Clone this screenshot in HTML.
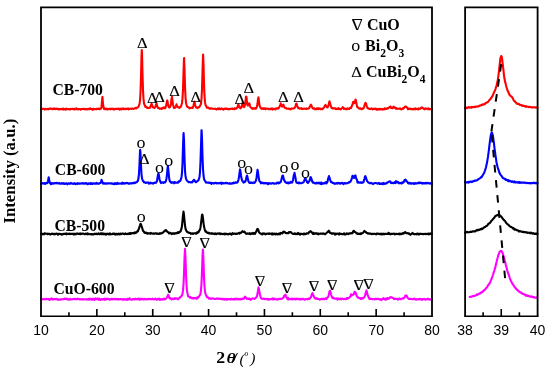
<!DOCTYPE html>
<html><head><meta charset="utf-8"><style>
html,body{margin:0;padding:0;background:#fff;}
body{width:550px;height:371px;overflow:hidden;}
svg{display:block;}
.lab{font-family:"Liberation Serif",serif;font-weight:bold;font-size:15.7px;fill:#000;}
.m{font-family:"Liberation Serif",serif;fill:#000;stroke:#000;stroke-width:0.15px;}
.mo{font-family:"Liberation Serif",serif;fill:#000;}
.tl{font-family:"Liberation Sans",Arial,sans-serif;font-size:14px;fill:#000;text-anchor:middle;}
.lg{font-family:"Liberation Serif",serif;font-weight:bold;font-size:16px;fill:#000;}
.sb{font-size:11.5px;}
.c{fill:none;stroke-width:2.1;stroke-linejoin:round;stroke-linecap:round;}
</style></head><body>
<svg width="550" height="371" viewBox="0 0 550 371">
<rect width="550" height="371" fill="#fff"/>
<polyline class="c" stroke="#f00" points="41.0,109.09 41.5,109.19 42.0,109.00 42.5,108.80 43.0,108.94 43.5,108.76 44.0,109.11 44.5,109.53 45.0,108.93 45.5,108.89 46.0,109.25 46.5,109.21 47.0,109.13 47.5,108.78 48.0,109.08 48.5,109.32 49.0,108.65 49.5,108.94 50.0,108.46 50.5,108.66 51.0,108.48 51.5,109.01 52.0,108.67 52.5,109.18 53.0,109.14 53.5,109.03 54.0,108.26 54.5,108.91 55.0,109.07 55.5,109.13 56.0,108.58 56.5,108.93 57.0,108.77 57.5,108.82 58.0,109.44 58.5,108.82 59.0,109.08 59.5,109.38 60.0,108.90 60.5,109.05 61.0,109.12 61.5,109.11 62.0,108.68 62.5,109.11 63.0,109.54 63.5,108.58 64.0,109.37 64.5,109.13 65.0,108.88 65.5,109.75 66.0,109.34 66.5,108.69 67.0,109.11 67.5,109.28 68.0,109.02 68.5,109.31 69.0,109.06 69.5,109.31 70.0,109.56 70.5,108.86 71.0,109.15 71.5,108.93 72.0,109.13 72.5,108.69 73.0,108.89 73.5,109.02 74.0,109.38 74.5,109.46 75.0,108.65 75.5,108.82 76.0,109.30 76.5,108.43 77.0,108.93 77.5,109.05 78.0,109.50 78.5,109.31 79.0,108.97 79.5,108.96 80.0,109.00 80.5,109.58 81.0,108.94 81.5,108.98 82.0,109.20 82.5,109.04 83.0,109.01 83.5,108.71 84.0,109.07 84.5,108.93 85.0,109.46 85.5,109.29 86.0,109.07 86.5,109.30 87.0,108.96 87.5,109.42 88.0,109.07 88.5,109.27 89.0,108.65 89.5,109.19 90.0,108.51 90.5,108.40 91.0,108.97 91.5,108.77 92.0,109.12 92.5,109.81 93.0,108.79 93.5,108.86 94.0,109.13 94.5,109.22 95.0,109.00 95.5,108.98 96.0,109.28 96.5,109.21 97.0,108.70 97.5,109.00 98.0,109.03 98.5,108.65 99.0,109.07 99.5,108.67 100.0,109.22 100.5,108.86 101.0,108.54 101.5,106.65 102.0,101.09 102.4,96.76 102.5,97.34 103.0,104.01 103.5,107.15 104.0,108.95 104.5,108.26 105.0,109.16 105.5,108.68 106.0,109.24 106.5,109.04 107.0,108.50 107.5,109.43 108.0,109.50 108.5,109.01 109.0,108.94 109.5,108.98 110.0,108.71 110.5,109.40 111.0,108.86 111.5,109.02 112.0,108.77 112.5,108.83 113.0,108.61 113.5,109.45 114.0,108.98 114.5,109.35 115.0,109.03 115.5,108.80 116.0,108.92 116.5,108.84 117.0,109.03 117.5,108.90 118.0,108.92 118.5,108.56 119.0,108.75 119.5,109.56 120.0,108.79 120.5,108.66 121.0,109.11 121.5,109.46 122.0,108.51 122.5,108.92 123.0,108.77 123.5,108.40 124.0,109.21 124.5,108.96 125.0,108.98 125.5,108.70 126.0,109.09 126.5,108.75 127.0,108.88 127.5,108.55 128.0,108.50 128.5,109.33 129.0,108.70 129.5,108.95 130.0,108.82 130.5,108.67 131.0,108.62 131.5,108.97 132.0,108.63 132.5,108.64 133.0,108.66 133.5,108.99 134.0,108.76 134.5,108.59 135.0,108.19 135.5,107.80 136.0,108.43 136.5,108.26 137.0,107.65 137.5,107.55 138.0,107.19 138.5,106.55 139.0,105.59 139.5,103.46 140.0,100.77 140.5,92.39 141.0,77.73 141.5,56.09 141.8,50.06 142.0,53.28 142.5,73.77 143.0,90.07 143.5,98.63 144.0,103.35 144.5,104.63 145.0,106.05 145.5,107.02 146.0,106.66 146.5,106.83 147.0,107.84 147.5,107.93 148.0,107.94 148.5,108.09 149.0,107.79 149.5,107.49 150.0,107.66 150.5,106.67 151.0,104.94 151.5,104.07 151.6,103.82 152.0,104.88 152.5,106.19 153.0,107.32 153.5,107.61 154.0,107.75 154.5,108.00 155.0,107.24 155.5,106.51 156.0,104.57 156.4,104.16 156.5,103.11 157.0,105.64 157.5,107.03 158.0,107.91 158.5,107.80 159.0,108.29 159.5,108.79 160.0,108.57 160.5,108.65 161.0,108.55 161.5,109.02 162.0,108.63 162.5,107.88 163.0,108.34 163.5,107.86 164.0,107.35 164.5,108.10 165.0,108.47 165.5,107.55 166.0,106.00 166.5,103.66 167.0,101.22 167.2,100.43 167.5,101.31 168.0,104.37 168.5,106.38 169.0,107.42 169.5,107.47 170.0,107.06 170.5,105.63 171.0,103.64 171.5,98.90 171.9,97.29 172.0,96.68 172.5,100.97 173.0,104.75 173.5,106.15 174.0,107.89 174.5,108.06 175.0,107.41 175.5,107.42 176.0,106.36 176.5,104.36 176.6,105.26 177.0,105.71 177.5,106.86 178.0,107.07 178.5,107.52 179.0,107.52 179.5,107.81 180.0,107.26 180.5,106.72 181.0,106.57 181.5,104.81 182.0,102.89 182.5,98.14 183.0,89.80 183.5,72.66 184.0,58.30 184.1,58.05 184.5,68.50 185.0,86.56 185.5,97.30 186.0,102.36 186.5,104.73 187.0,106.42 187.5,106.84 188.0,107.12 188.5,107.27 189.0,107.48 189.5,108.38 190.0,108.12 190.5,108.04 191.0,107.92 191.5,107.64 192.0,107.88 192.5,107.95 193.0,106.93 193.5,105.59 194.0,103.21 194.4,102.10 194.5,101.63 195.0,104.18 195.5,105.99 196.0,107.53 196.5,107.35 197.0,107.90 197.5,108.20 198.0,107.50 198.5,107.22 199.0,107.19 199.5,106.69 200.0,105.70 200.5,105.10 201.0,103.66 201.5,98.75 202.0,89.47 202.5,71.97 203.0,55.69 203.1,54.49 203.5,63.81 204.0,84.06 204.5,95.69 205.0,102.15 205.5,104.91 206.0,105.86 206.5,106.79 207.0,107.80 207.5,107.48 208.0,107.62 208.5,107.58 209.0,108.20 209.5,108.80 210.0,108.72 210.5,108.18 211.0,108.27 211.5,108.44 212.0,108.75 212.5,108.63 213.0,108.80 213.5,108.85 214.0,108.68 214.5,108.79 215.0,108.89 215.5,108.81 216.0,109.02 216.5,109.49 217.0,109.08 217.5,108.91 218.0,108.34 218.5,109.04 219.0,108.27 219.5,108.46 220.0,109.21 220.5,109.17 221.0,108.89 221.5,108.38 222.0,108.83 222.5,108.73 223.0,109.17 223.5,109.70 224.0,109.03 224.5,108.70 225.0,108.58 225.5,108.95 226.0,108.91 226.5,108.58 227.0,109.00 227.5,108.58 228.0,109.33 228.5,109.31 229.0,109.31 229.5,108.80 230.0,109.12 230.5,108.90 231.0,108.81 231.5,108.82 232.0,108.49 232.5,108.43 233.0,109.15 233.5,108.81 234.0,108.92 234.5,109.14 235.0,108.19 235.5,108.43 236.0,108.63 236.5,108.48 237.0,107.73 237.5,107.11 238.0,105.21 238.3,104.24 238.5,104.54 239.0,106.61 239.5,107.61 240.0,107.28 240.5,108.39 241.0,107.86 241.5,107.28 242.0,104.99 242.5,103.19 242.6,102.82 243.0,104.92 243.5,105.80 244.0,107.18 244.5,106.22 245.0,105.01 245.5,100.93 246.0,96.76 246.2,96.53 246.5,97.19 247.0,102.60 247.5,105.22 248.0,105.51 248.5,104.85 249.0,103.30 249.2,103.24 249.5,103.77 250.0,105.73 250.5,107.27 251.0,107.66 251.5,107.86 252.0,108.41 252.5,108.80 253.0,108.05 253.5,108.57 254.0,108.34 254.5,108.19 255.0,108.71 255.5,108.12 256.0,108.54 256.5,107.30 257.0,106.56 257.5,103.78 258.0,99.20 258.4,97.42 258.5,97.35 259.0,101.56 259.5,105.13 260.0,106.69 260.5,107.82 261.0,108.26 261.5,108.77 262.0,108.30 262.5,108.68 263.0,108.19 263.5,109.02 264.0,108.48 264.5,108.27 265.0,108.87 265.5,109.27 266.0,108.42 266.5,108.57 267.0,108.70 267.5,108.58 268.0,109.08 268.5,108.69 269.0,108.72 269.5,109.16 270.0,108.72 270.5,109.11 271.0,108.64 271.5,108.56 272.0,108.35 272.5,109.57 273.0,108.84 273.5,109.02 274.0,108.92 274.5,108.97 275.0,108.91 275.5,109.50 276.0,108.50 276.5,108.29 277.0,108.41 277.5,108.23 278.0,108.79 278.5,108.59 279.0,107.58 279.5,106.64 280.0,105.68 280.5,104.92 280.7,103.33 281.0,104.70 281.5,105.28 282.0,106.67 282.5,105.80 283.0,105.29 283.4,104.58 283.5,104.81 284.0,106.56 284.5,107.50 285.0,107.83 285.5,108.07 286.0,107.93 286.5,108.54 287.0,108.73 287.5,108.76 288.0,108.79 288.5,108.47 289.0,108.84 289.5,108.85 290.0,109.29 290.5,109.48 291.0,108.80 291.5,108.57 292.0,108.77 292.5,108.55 293.0,108.43 293.5,108.54 294.0,108.01 294.5,108.15 295.0,107.11 295.5,105.86 296.0,104.12 296.3,103.53 296.5,103.65 297.0,105.37 297.5,106.75 298.0,107.91 298.5,108.30 299.0,108.09 299.5,108.69 300.0,108.31 300.5,108.60 301.0,108.75 301.5,108.19 302.0,108.92 302.5,108.95 303.0,108.86 303.5,108.78 304.0,108.79 304.5,108.59 305.0,108.82 305.5,108.71 306.0,108.91 306.5,108.45 307.0,108.89 307.5,108.80 308.0,108.62 308.5,108.36 309.0,108.39 309.5,107.06 310.0,106.70 310.5,105.23 310.9,104.67 311.0,104.74 311.5,105.49 312.0,106.94 312.5,108.10 313.0,108.49 313.5,108.64 314.0,108.20 314.5,108.95 315.0,109.21 315.5,109.19 316.0,108.95 316.5,108.38 317.0,109.21 317.5,108.86 318.0,108.07 318.5,109.03 319.0,108.40 319.5,108.46 320.0,108.66 320.5,109.26 321.0,108.69 321.5,108.86 322.0,109.29 322.5,109.14 323.0,108.43 323.5,108.11 324.0,107.23 324.5,106.46 325.0,105.57 325.4,105.01 325.5,104.94 326.0,106.08 326.5,106.51 327.0,107.26 327.5,107.48 328.0,106.75 328.5,105.40 329.0,102.93 329.5,101.33 330.0,103.00 330.5,104.88 331.0,106.30 331.5,107.92 332.0,108.16 332.5,108.52 333.0,108.01 333.5,108.54 334.0,108.53 334.5,108.50 335.0,108.07 335.5,108.73 336.0,109.16 336.5,109.00 337.0,108.69 337.5,108.89 338.0,109.14 338.5,107.98 339.0,108.84 339.5,109.04 340.0,109.05 340.5,109.33 341.0,109.02 341.5,108.51 342.0,108.10 342.5,107.78 342.8,107.22 343.0,107.44 343.5,108.19 344.0,108.96 344.5,108.52 345.0,108.69 345.5,108.82 346.0,109.22 346.5,108.78 347.0,109.26 347.5,108.44 348.0,108.67 348.5,108.62 349.0,108.88 349.5,108.87 350.0,107.90 350.5,107.90 351.0,107.98 351.5,107.01 352.0,105.53 352.5,104.44 353.0,102.22 353.2,101.85 353.5,101.72 354.0,103.28 354.5,102.86 355.0,101.71 355.5,99.45 355.6,99.45 356.0,101.10 356.5,103.61 357.0,106.20 357.5,107.27 358.0,107.50 358.5,108.15 359.0,108.20 359.5,108.73 360.0,108.29 360.5,108.40 361.0,108.96 361.5,109.28 362.0,109.16 362.5,108.43 363.0,108.30 363.5,108.38 364.0,107.10 364.5,105.46 365.0,103.86 365.5,102.78 366.0,103.57 366.5,105.27 367.0,106.73 367.5,108.17 368.0,108.08 368.5,108.49 369.0,108.73 369.5,108.94 370.0,108.69 370.5,109.01 371.0,108.58 371.5,108.78 372.0,108.58 372.5,109.31 373.0,108.94 373.5,108.72 374.0,108.85 374.5,108.90 375.0,109.21 375.5,108.46 376.0,108.65 376.5,108.87 377.0,109.83 377.5,109.32 378.0,108.96 378.5,109.24 379.0,109.68 379.5,108.92 380.0,108.88 380.5,109.40 381.0,109.16 381.5,109.21 382.0,108.82 382.5,109.61 383.0,109.54 383.5,109.15 384.0,109.17 384.5,108.26 385.0,109.12 385.5,108.82 386.0,108.99 386.5,109.02 387.0,108.60 387.5,108.02 388.0,108.50 388.5,107.84 389.0,107.61 389.5,107.13 390.0,107.01 390.5,106.47 391.0,107.89 391.5,107.77 392.0,108.10 392.5,108.27 393.0,107.42 393.5,106.70 393.6,107.00 394.0,107.03 394.5,107.59 395.0,108.12 395.5,107.71 396.0,108.68 396.5,108.19 397.0,108.86 397.5,108.77 398.0,108.74 398.5,108.83 399.0,108.69 399.5,108.66 400.0,108.30 400.5,108.83 401.0,109.43 401.5,109.43 402.0,109.15 402.5,108.84 403.0,108.21 403.5,108.64 404.0,107.75 404.5,107.23 405.0,106.64 405.5,106.53 406.0,106.60 406.5,107.23 407.0,107.42 407.5,108.06 408.0,109.21 408.5,108.61 409.0,108.67 409.5,108.99 410.0,109.10 410.5,108.53 411.0,108.86 411.5,109.25 412.0,109.05 412.5,109.01 413.0,109.50 413.5,108.77 414.0,109.02 414.5,108.83 415.0,109.49 415.5,108.35 416.0,108.78 416.5,108.82 417.0,109.20 417.5,109.17 418.0,109.42 418.5,108.41 419.0,109.13 419.5,108.72 420.0,108.48 420.5,108.72 421.0,108.03 421.5,107.43 422.0,107.90 422.5,107.62 423.0,108.12 423.5,108.67 424.0,108.82 424.5,109.35 425.0,108.84 425.5,108.44 426.0,108.73 426.5,108.70 427.0,108.61 427.5,109.17 428.0,108.82 428.5,108.39 429.0,109.28 429.5,109.01 430.0,109.17 430.5,109.09 431.0,109.27 431.5,109.08 432.0,109.47"/>
<polyline class="c" stroke="#00f" points="41.0,183.62 41.5,183.61 42.0,183.62 42.5,183.00 43.0,183.42 43.5,183.39 44.0,183.54 44.5,183.01 45.0,183.99 45.5,183.47 46.0,183.02 46.5,182.82 47.0,183.22 47.5,182.99 48.0,181.18 48.5,178.06 48.7,177.23 49.0,178.83 49.5,181.69 50.0,183.12 50.5,183.66 51.0,184.24 51.5,183.09 52.0,183.29 52.5,183.18 53.0,183.72 53.5,183.09 54.0,183.31 54.5,183.47 55.0,183.15 55.5,183.16 56.0,183.32 56.5,182.79 57.0,183.01 57.5,183.35 58.0,183.53 58.5,183.42 59.0,182.90 59.5,183.33 60.0,183.75 60.5,183.67 61.0,183.46 61.5,183.19 62.0,183.69 62.5,183.30 63.0,183.10 63.5,183.22 64.0,183.96 64.5,183.56 65.0,183.87 65.5,183.33 66.0,183.80 66.5,183.29 67.0,183.44 67.5,184.31 68.0,183.74 68.5,183.32 69.0,183.46 69.5,183.59 70.0,183.89 70.5,183.33 71.0,182.91 71.5,183.39 72.0,183.49 72.5,183.52 73.0,183.92 73.5,183.59 74.0,183.75 74.5,183.12 75.0,183.77 75.5,184.18 76.0,183.74 76.5,183.57 77.0,183.54 77.5,184.07 78.0,183.18 78.5,183.45 79.0,183.64 79.5,183.73 80.0,183.34 80.5,183.59 81.0,183.39 81.5,183.52 82.0,183.44 82.5,183.11 83.0,183.48 83.5,183.77 84.0,183.16 84.5,183.40 85.0,183.70 85.5,183.13 86.0,183.54 86.5,183.13 87.0,183.86 87.5,184.24 88.0,184.15 88.5,183.41 89.0,183.72 89.5,183.52 90.0,183.51 90.5,183.99 91.0,183.04 91.5,183.82 92.0,183.46 92.5,183.94 93.0,183.54 93.5,183.25 94.0,183.56 94.5,183.71 95.0,183.48 95.5,183.63 96.0,183.29 96.5,182.76 97.0,183.76 97.5,183.69 98.0,183.50 98.5,183.46 99.0,183.77 99.5,183.25 100.0,183.10 100.5,182.95 101.0,182.19 101.5,179.74 101.6,180.52 102.0,180.84 102.5,182.31 103.0,183.68 103.5,183.35 104.0,182.98 104.5,183.31 105.0,183.75 105.5,183.84 106.0,183.31 106.5,183.59 107.0,183.69 107.5,183.24 108.0,183.57 108.5,183.45 109.0,183.28 109.5,183.29 110.0,183.48 110.5,183.47 111.0,183.27 111.5,183.31 112.0,183.82 112.5,183.52 113.0,183.74 113.5,183.85 114.0,183.65 114.5,184.20 115.0,183.18 115.5,183.71 116.0,183.34 116.5,184.06 117.0,184.00 117.5,182.80 118.0,183.12 118.5,183.66 119.0,183.70 119.5,183.68 120.0,183.41 120.5,183.58 121.0,183.64 121.5,183.40 122.0,183.76 122.5,182.67 123.0,183.62 123.5,183.07 124.0,183.72 124.5,183.32 125.0,183.10 125.5,183.51 126.0,183.08 126.5,183.07 127.0,182.85 127.5,183.35 128.0,183.51 128.5,183.67 129.0,183.27 129.5,183.65 130.0,183.30 130.5,183.24 131.0,183.44 131.5,183.57 132.0,183.08 132.5,183.08 133.0,183.06 133.5,183.09 134.0,182.70 134.5,183.25 135.0,182.67 135.5,182.81 136.0,182.19 136.5,182.31 137.0,181.92 137.5,181.04 138.0,180.77 138.5,178.03 139.0,173.55 139.5,163.58 140.0,151.40 140.2,149.86 140.5,153.60 141.0,165.63 141.5,174.28 142.0,178.39 142.5,179.76 143.0,181.23 143.5,181.13 144.0,182.35 144.5,182.23 145.0,182.41 145.5,182.70 146.0,182.96 146.5,182.48 147.0,182.43 147.5,182.70 148.0,182.41 148.5,182.79 149.0,183.65 149.5,182.79 150.0,183.37 150.5,182.70 151.0,183.25 151.5,183.04 152.0,183.12 152.5,183.30 153.0,183.67 153.5,183.12 154.0,183.04 154.5,182.60 155.0,183.00 155.5,182.56 156.0,182.63 156.5,181.79 157.0,181.21 157.5,177.65 158.0,174.77 158.4,173.60 158.5,173.30 159.0,175.99 159.5,179.27 160.0,180.68 160.5,182.01 161.0,183.16 161.5,182.92 162.0,182.28 162.5,182.39 163.0,182.54 163.5,182.96 164.0,182.26 164.5,182.14 165.0,182.40 165.5,181.93 166.0,180.62 166.5,178.42 167.0,174.36 167.5,168.87 167.9,165.76 168.0,166.93 168.5,171.26 169.0,176.87 169.5,180.36 170.0,181.57 170.5,181.48 171.0,182.51 171.5,182.83 172.0,182.35 172.5,182.37 173.0,182.71 173.5,182.26 174.0,183.29 174.5,182.01 175.0,182.43 175.5,182.67 176.0,182.65 176.5,182.72 177.0,182.67 177.5,182.40 178.0,182.71 178.5,181.44 179.0,181.90 179.5,181.32 180.0,181.11 180.5,180.42 181.0,178.89 181.5,176.89 182.0,172.97 182.5,163.59 183.0,147.28 183.5,133.61 183.6,133.12 184.0,139.81 184.5,157.93 185.0,170.57 185.5,175.96 186.0,178.55 186.5,179.83 187.0,180.57 187.5,181.23 188.0,181.50 188.5,182.19 189.0,182.00 189.5,182.11 190.0,181.95 190.5,182.37 191.0,182.09 191.5,182.26 192.0,182.50 192.5,181.90 193.0,181.26 193.5,180.30 193.9,179.80 194.0,179.76 194.5,180.34 195.0,181.47 195.5,181.32 196.0,182.27 196.5,181.81 197.0,181.38 197.5,181.16 198.0,180.63 198.5,180.19 199.0,178.72 199.5,177.18 200.0,171.99 200.5,161.90 201.0,145.79 201.5,130.22 201.6,130.27 202.0,138.90 202.5,157.04 203.0,168.80 203.5,175.22 204.0,178.96 204.5,179.98 205.0,180.78 205.5,181.72 206.0,182.60 206.5,182.52 207.0,182.37 207.5,182.61 208.0,182.83 208.5,182.54 209.0,182.48 209.5,182.92 210.0,182.65 210.5,182.99 211.0,183.08 211.5,183.86 212.0,182.84 212.5,183.11 213.0,183.12 213.5,183.34 214.0,183.56 214.5,183.07 215.0,182.97 215.5,182.71 216.0,182.96 216.5,183.45 217.0,183.30 217.5,182.96 218.0,183.18 218.5,183.32 219.0,183.48 219.5,183.12 220.0,183.24 220.5,182.73 221.0,182.95 221.5,183.87 222.0,182.61 222.5,183.23 223.0,183.41 223.5,183.22 224.0,183.07 224.5,183.32 225.0,183.34 225.5,183.31 226.0,182.72 226.5,183.29 227.0,183.05 227.5,183.15 228.0,183.40 228.5,183.53 229.0,183.61 229.5,183.14 230.0,183.60 230.5,183.67 231.0,183.65 231.5,183.72 232.0,183.19 232.5,183.16 233.0,183.46 233.5,182.71 234.0,183.18 234.5,182.89 235.0,182.88 235.5,182.33 236.0,182.50 236.5,182.62 237.0,182.67 237.5,182.31 238.0,181.23 238.5,179.75 239.0,176.82 239.5,173.04 240.0,169.40 240.1,169.55 240.5,171.72 241.0,175.48 241.5,178.31 242.0,180.36 242.5,181.05 243.0,181.56 243.5,182.57 244.0,182.26 244.5,181.58 245.0,181.94 245.5,181.32 246.0,179.20 246.5,176.79 247.0,175.49 247.5,177.15 248.0,179.62 248.5,181.45 249.0,182.35 249.5,182.78 250.0,183.07 250.5,182.96 251.0,182.31 251.5,182.81 252.0,182.97 252.5,182.72 253.0,183.11 253.5,182.61 254.0,182.29 254.5,182.87 255.0,182.27 255.5,181.47 256.0,180.40 256.5,177.95 257.0,173.88 257.5,169.82 257.6,170.30 258.0,172.04 258.5,175.90 259.0,179.37 259.5,181.43 260.0,181.74 260.5,181.98 261.0,183.30 261.5,182.65 262.0,182.52 262.5,183.09 263.0,183.22 263.5,182.90 264.0,183.43 264.5,183.04 265.0,182.92 265.5,183.31 266.0,183.52 266.5,183.07 267.0,183.40 267.5,183.27 268.0,184.24 268.5,183.08 269.0,183.77 269.5,183.30 270.0,183.28 270.5,183.56 271.0,183.61 271.5,183.73 272.0,183.42 272.5,183.11 273.0,183.12 273.5,183.46 274.0,183.47 274.5,183.73 275.0,183.39 275.5,183.58 276.0,183.71 276.5,183.23 277.0,182.64 277.5,182.69 278.0,182.54 278.5,183.45 279.0,182.51 279.5,183.00 280.0,182.46 280.5,182.28 281.0,181.08 281.5,179.21 282.0,177.19 282.5,175.65 282.7,175.49 283.0,175.66 283.5,177.64 284.0,180.10 284.5,180.39 285.0,181.89 285.5,181.99 286.0,182.63 286.5,183.01 287.0,182.82 287.5,183.15 288.0,182.41 288.5,183.32 289.0,182.75 289.5,183.13 290.0,182.94 290.5,181.94 291.0,182.42 291.5,182.53 292.0,182.61 292.5,181.48 293.0,180.04 293.5,176.95 294.0,174.55 294.4,173.30 294.5,172.81 295.0,175.33 295.5,178.05 296.0,180.95 296.5,182.64 297.0,182.53 297.5,183.00 298.0,182.94 298.5,182.55 299.0,183.39 299.5,182.59 300.0,182.96 300.5,183.13 301.0,183.32 301.5,183.14 302.0,183.08 302.5,182.60 303.0,182.25 303.5,182.33 304.0,181.37 304.5,179.94 305.0,178.53 305.3,178.41 305.5,178.12 306.0,179.57 306.5,180.74 307.0,182.08 307.5,182.48 308.0,183.06 308.5,181.74 309.0,181.53 309.5,181.03 310.0,178.93 310.5,177.15 310.7,177.61 311.0,177.43 311.5,179.09 312.0,180.68 312.5,182.19 313.0,182.68 313.5,182.38 314.0,182.65 314.5,183.25 315.0,183.33 315.5,182.97 316.0,183.43 316.5,183.44 317.0,182.68 317.5,183.18 318.0,183.43 318.5,183.11 319.0,182.60 319.5,183.22 320.0,183.56 320.5,183.83 321.0,182.58 321.5,184.16 322.0,182.91 322.5,183.58 323.0,183.66 323.5,183.55 324.0,183.24 324.5,182.75 325.0,183.28 325.5,182.73 326.0,181.99 326.5,183.51 327.0,182.34 327.5,181.77 328.0,179.15 328.5,177.47 329.0,176.00 329.5,177.50 330.0,179.44 330.5,180.78 331.0,182.05 331.5,181.85 332.0,182.26 332.5,183.00 333.0,182.75 333.5,183.09 334.0,183.16 334.5,183.87 335.0,183.68 335.5,183.26 336.0,183.69 336.5,183.05 337.0,183.20 337.5,183.62 338.0,182.92 338.5,183.24 339.0,182.90 339.5,183.37 340.0,183.87 340.5,183.08 341.0,183.40 341.5,183.03 342.0,182.94 342.5,182.90 343.0,183.78 343.5,184.07 344.0,183.43 344.5,183.02 345.0,183.47 345.5,183.10 346.0,183.45 346.5,183.24 347.0,183.19 347.5,183.24 348.0,182.78 348.5,182.73 349.0,182.16 349.5,182.38 350.0,181.73 350.5,181.61 351.0,180.43 351.5,179.40 352.0,177.77 352.5,175.83 352.6,175.93 353.0,176.06 353.5,177.40 354.0,177.96 354.5,177.02 355.0,175.66 355.3,176.14 355.5,175.43 356.0,178.02 356.5,179.14 357.0,179.81 357.5,182.48 358.0,182.64 358.5,182.07 359.0,182.64 359.5,182.61 360.0,182.78 360.5,182.27 361.0,182.53 361.5,182.86 362.0,182.67 362.5,182.80 363.0,182.07 363.5,182.17 364.0,180.08 364.5,178.83 365.0,176.45 365.4,176.09 365.5,176.98 366.0,177.42 366.5,179.65 367.0,180.86 367.5,181.45 368.0,182.23 368.5,182.48 369.0,182.68 369.5,183.22 370.0,183.27 370.5,182.93 371.0,182.87 371.5,183.30 372.0,183.21 372.5,183.61 373.0,184.16 373.5,183.58 374.0,183.31 374.5,183.27 375.0,183.06 375.5,183.05 376.0,183.02 376.5,183.23 377.0,183.22 377.5,183.61 378.0,183.24 378.5,183.31 379.0,182.97 379.5,183.92 380.0,183.54 380.5,183.96 381.0,183.63 381.5,183.86 382.0,183.28 382.5,183.59 383.0,184.24 383.5,182.93 384.0,183.71 384.5,183.86 385.0,183.41 385.5,183.49 386.0,183.60 386.5,182.87 387.0,183.09 387.5,182.45 388.0,182.20 388.5,181.82 389.0,181.58 389.5,181.48 390.0,181.76 390.5,181.52 391.0,183.05 391.5,183.06 392.0,183.10 392.5,182.83 393.0,182.96 393.5,183.16 394.0,183.04 394.5,182.18 395.0,182.76 395.5,183.16 396.0,181.19 396.5,181.93 396.6,181.71 397.0,181.66 397.5,182.49 398.0,181.99 398.5,182.73 399.0,183.36 399.5,182.91 400.0,182.90 400.5,183.10 401.0,182.90 401.5,183.54 402.0,182.63 402.5,183.10 403.0,182.15 403.5,182.44 404.0,181.65 404.5,180.11 405.0,180.29 405.5,179.62 406.0,180.15 406.5,181.53 407.0,181.33 407.5,181.90 408.0,183.12 408.5,182.91 409.0,183.55 409.5,183.23 410.0,182.89 410.5,183.21 411.0,183.69 411.5,183.61 412.0,183.32 412.5,183.35 413.0,183.31 413.5,183.16 414.0,184.02 414.5,183.37 415.0,182.98 415.5,183.20 416.0,183.61 416.5,183.57 417.0,183.29 417.5,183.08 418.0,183.27 418.5,182.62 419.0,182.63 419.5,183.17 420.0,182.54 420.5,182.67 420.8,182.92 421.0,182.74 421.5,182.68 422.0,183.60 422.5,183.28 423.0,183.06 423.5,183.52 424.0,183.47 424.5,183.07 425.0,183.41 425.5,183.35 426.0,182.75 426.5,183.37 427.0,183.34 427.5,183.29 428.0,182.89 428.5,183.33 429.0,183.44 429.5,183.49 430.0,183.07 430.5,183.68 431.0,183.05 431.5,183.39 432.0,183.91"/>
<polyline class="c" stroke="#000" points="41.0,233.76 41.5,233.82 42.0,234.36 42.5,233.86 43.0,233.89 43.5,234.07 44.0,234.35 44.5,233.24 45.0,233.71 45.5,233.65 46.0,233.62 46.5,233.70 47.0,233.71 47.5,234.09 48.0,233.69 48.5,234.03 49.0,234.13 49.5,233.74 50.0,234.04 50.5,234.54 51.0,234.10 51.5,233.78 52.0,233.97 52.5,233.68 53.0,234.08 53.5,234.28 54.0,233.71 54.5,233.92 55.0,234.37 55.5,233.82 56.0,234.05 56.5,233.64 57.0,233.71 57.5,233.82 58.0,234.71 58.5,233.85 59.0,233.81 59.5,233.80 60.0,233.93 60.5,234.21 61.0,234.05 61.5,234.67 62.0,234.06 62.5,234.47 63.0,234.08 63.5,234.19 64.0,233.51 64.5,233.95 65.0,233.97 65.5,233.91 66.0,233.28 66.5,234.28 67.0,233.86 67.5,233.84 68.0,233.90 68.5,233.91 69.0,234.12 69.5,233.57 70.0,233.68 70.5,234.08 71.0,234.03 71.5,233.86 72.0,233.80 72.5,233.71 73.0,233.97 73.5,234.38 74.0,233.64 74.5,234.49 75.0,234.26 75.5,233.84 76.0,234.24 76.5,233.50 77.0,233.41 77.5,233.56 78.0,233.85 78.5,233.88 79.0,233.81 79.5,234.02 80.0,233.28 80.5,234.15 81.0,233.51 81.5,233.76 82.0,233.85 82.5,233.60 83.0,233.53 83.5,233.65 84.0,233.98 84.5,234.18 85.0,234.17 85.5,233.65 86.0,233.72 86.5,233.68 87.0,234.13 87.5,233.31 88.0,234.39 88.5,233.82 89.0,233.72 89.5,234.09 90.0,234.32 90.5,234.09 91.0,234.32 91.5,234.02 92.0,234.38 92.5,234.39 93.0,233.94 93.5,234.45 94.0,234.03 94.5,234.00 95.0,233.67 95.5,233.88 96.0,234.23 96.5,233.54 97.0,234.19 97.5,234.09 98.0,234.06 98.5,233.24 99.0,233.94 99.5,234.18 100.0,233.72 100.5,234.00 101.0,233.18 101.5,234.19 102.0,233.75 102.5,234.25 103.0,233.36 103.5,234.19 104.0,233.88 104.5,234.23 105.0,233.66 105.5,233.76 106.0,234.70 106.5,233.68 107.0,233.72 107.5,233.87 108.0,233.62 108.5,234.35 109.0,234.52 109.5,233.72 110.0,233.38 110.5,234.34 111.0,234.31 111.5,234.22 112.0,234.33 112.5,233.66 113.0,233.89 113.5,233.48 114.0,233.47 114.5,234.26 115.0,233.71 115.5,234.68 116.0,233.95 116.5,233.71 117.0,234.19 117.5,234.52 118.0,234.08 118.5,233.51 119.0,234.03 119.5,234.36 120.0,233.74 120.5,233.64 121.0,234.23 121.5,233.94 122.0,233.52 122.5,233.75 123.0,233.62 123.5,233.97 124.0,233.90 124.5,234.23 125.0,234.08 125.5,233.32 126.0,233.96 126.5,234.11 127.0,233.95 127.5,234.13 128.0,233.59 128.5,233.44 129.0,234.04 129.5,233.36 130.0,232.98 130.5,234.00 131.0,233.39 131.5,233.49 132.0,233.09 132.5,233.06 133.0,233.05 133.5,233.24 134.0,233.39 134.5,232.40 135.0,233.27 135.5,232.46 136.0,232.28 136.5,232.56 137.0,231.93 137.5,230.92 138.0,231.31 138.5,229.42 139.0,228.42 139.5,226.70 140.0,225.37 140.5,223.78 140.6,224.23 141.0,224.13 141.5,226.28 142.0,227.43 142.5,229.07 143.0,230.95 143.5,231.25 144.0,231.78 144.5,232.91 145.0,232.61 145.5,232.47 146.0,233.17 146.5,232.68 147.0,233.56 147.5,233.68 148.0,233.17 148.5,233.21 149.0,233.53 149.5,233.52 150.0,233.23 150.5,233.77 151.0,232.93 151.5,233.48 152.0,233.51 152.5,233.56 153.0,233.76 153.5,233.26 154.0,233.87 154.5,233.62 155.0,233.46 155.5,233.22 156.0,233.28 156.5,233.78 157.0,233.33 157.5,233.65 158.0,233.96 158.5,233.92 159.0,234.06 159.5,233.41 160.0,233.09 160.5,233.71 161.0,233.37 161.5,233.49 162.0,232.92 162.5,233.05 163.0,232.59 163.5,232.12 164.0,231.55 164.5,230.99 165.0,230.49 165.5,230.26 165.6,230.51 166.0,230.11 166.5,231.22 167.0,231.11 167.5,231.98 168.0,232.08 168.5,232.40 169.0,233.44 169.5,232.88 170.0,232.72 170.5,233.01 171.0,233.22 171.5,234.09 172.0,233.48 172.5,233.74 173.0,233.11 173.5,233.56 174.0,233.65 174.5,234.01 175.0,233.16 175.5,233.55 176.0,233.40 176.5,232.90 177.0,233.16 177.5,232.97 178.0,232.16 178.5,232.95 179.0,232.69 179.5,232.05 180.0,231.30 180.5,231.56 181.0,230.09 181.5,228.58 182.0,225.78 182.5,220.54 183.0,215.17 183.5,211.62 184.0,214.87 184.5,220.68 185.0,225.31 185.5,228.60 186.0,230.03 186.5,230.99 187.0,231.62 187.5,232.27 188.0,232.18 188.5,232.54 189.0,232.85 189.5,232.81 190.0,233.05 190.5,232.96 191.0,233.88 191.5,233.69 192.0,233.43 192.5,233.27 193.0,234.01 193.5,233.39 194.0,233.23 194.5,233.32 195.0,233.27 195.5,233.57 196.0,233.01 196.5,233.59 197.0,232.45 197.5,232.77 198.0,231.93 198.5,232.47 199.0,231.20 199.5,230.44 200.0,229.43 200.5,227.42 201.0,223.41 201.5,219.29 202.0,214.87 202.3,214.49 202.5,214.82 203.0,218.37 203.5,222.77 204.0,226.36 204.5,228.57 205.0,230.46 205.5,231.73 206.0,231.21 206.5,232.24 207.0,232.45 207.5,232.98 208.0,232.68 208.5,233.09 209.0,232.90 209.5,233.57 210.0,233.44 210.5,233.42 211.0,233.65 211.5,233.49 212.0,233.09 212.5,233.83 213.0,233.76 213.5,233.64 214.0,234.04 214.5,234.13 215.0,233.39 215.5,233.51 216.0,234.29 216.5,234.26 217.0,233.56 217.5,233.42 218.0,233.61 218.5,233.66 219.0,233.31 219.5,233.85 220.0,233.42 220.5,233.45 221.0,234.16 221.5,233.63 222.0,233.84 222.5,234.08 223.0,234.14 223.5,233.76 224.0,233.89 224.5,233.61 225.0,234.46 225.5,234.10 226.0,233.52 226.5,233.89 227.0,234.12 227.5,234.04 228.0,234.49 228.5,234.34 229.0,233.71 229.5,233.85 230.0,233.46 230.5,233.96 231.0,233.93 231.5,234.77 232.0,233.90 232.5,233.17 233.0,233.64 233.5,233.89 234.0,233.43 234.5,233.55 235.0,233.70 235.5,233.92 236.0,233.74 236.5,233.48 237.0,234.01 237.5,233.53 238.0,233.50 238.5,233.15 239.0,233.26 239.5,233.61 240.0,232.68 240.5,232.95 241.0,232.90 241.5,232.16 242.0,231.95 242.5,231.16 243.0,231.82 243.5,231.89 244.0,231.94 244.5,231.69 245.0,232.31 245.5,233.28 246.0,233.76 246.5,233.47 247.0,233.90 247.5,233.37 248.0,233.57 248.5,233.67 249.0,233.84 249.5,233.21 250.0,234.03 250.5,234.16 251.0,233.35 251.5,233.27 252.0,233.82 252.5,233.46 253.0,232.86 253.5,233.85 254.0,233.55 254.5,233.22 255.0,233.85 255.5,232.82 256.0,231.87 256.5,231.14 257.0,229.51 257.5,228.76 257.6,229.11 258.0,229.23 258.5,230.48 259.0,232.32 259.5,232.85 260.0,233.32 260.5,233.51 261.0,233.65 261.5,234.08 262.0,233.66 262.5,234.33 263.0,233.44 263.5,233.70 264.0,233.36 264.5,233.72 265.0,234.02 265.5,234.34 266.0,233.65 266.5,233.88 267.0,233.76 267.5,233.64 268.0,233.50 268.5,233.92 269.0,233.33 269.5,233.94 270.0,233.91 270.5,233.69 271.0,233.57 271.5,233.45 272.0,234.52 272.5,233.46 273.0,234.42 273.5,234.10 274.0,233.78 274.5,233.51 275.0,234.23 275.5,234.46 276.0,233.57 276.5,233.77 277.0,234.21 277.5,233.96 278.0,234.49 278.5,233.62 279.0,233.96 279.5,233.34 280.0,234.39 280.5,233.39 281.0,232.79 281.5,233.30 282.0,233.03 282.5,233.32 283.0,232.07 283.5,231.67 284.0,231.63 284.5,232.17 285.0,232.10 285.5,232.94 286.0,233.11 286.5,233.06 287.0,233.26 287.5,233.22 288.0,232.76 288.5,233.21 289.0,231.99 289.5,232.46 290.0,232.22 290.5,232.07 291.0,232.26 291.5,232.84 292.0,233.39 292.5,233.69 293.0,233.68 293.5,234.01 294.0,233.55 294.5,233.85 295.0,233.29 295.5,234.08 296.0,233.89 296.5,233.72 297.0,234.25 297.5,234.10 298.0,232.95 298.5,233.90 299.0,233.41 299.5,234.24 300.0,234.71 300.5,233.72 301.0,233.91 301.5,233.80 302.0,233.99 302.5,234.09 303.0,234.29 303.5,233.53 304.0,234.36 304.5,233.52 305.0,233.90 305.5,234.16 306.0,233.98 306.5,233.38 307.0,233.39 307.5,233.35 308.0,233.30 308.5,233.40 309.0,232.16 309.5,232.17 310.0,231.59 310.5,231.21 310.6,231.16 311.0,231.69 311.5,231.92 312.0,232.66 312.5,233.05 313.0,233.81 313.5,232.81 314.0,234.00 314.5,233.58 315.0,233.63 315.5,233.45 316.0,233.18 316.5,233.69 317.0,233.61 317.5,234.01 318.0,233.37 318.5,234.34 319.0,233.96 319.5,233.79 320.0,233.64 320.5,233.62 321.0,233.50 321.5,233.69 322.0,233.87 322.5,233.80 323.0,233.38 323.5,233.74 324.0,233.51 324.5,233.83 325.0,234.34 325.5,233.87 326.0,233.45 326.5,232.83 327.0,232.57 327.5,231.94 328.0,232.00 328.5,230.81 328.8,230.93 329.0,230.78 329.5,231.64 330.0,232.83 330.5,232.72 331.0,233.20 331.5,233.26 332.0,233.94 332.5,233.39 333.0,233.40 333.5,233.35 334.0,233.37 334.5,234.01 335.0,234.72 335.5,233.56 336.0,234.21 336.5,233.98 337.0,233.54 337.5,233.82 338.0,233.84 338.5,233.69 339.0,234.56 339.5,233.29 340.0,234.05 340.5,234.03 341.0,233.73 341.5,233.97 342.0,234.21 342.5,233.97 343.0,234.06 343.5,234.14 344.0,233.24 344.5,234.40 345.0,234.65 345.5,234.22 346.0,234.22 346.5,233.41 347.0,233.83 347.5,233.58 348.0,233.64 348.5,234.13 349.0,233.52 349.5,233.70 350.0,233.06 350.5,233.56 351.0,233.53 351.5,233.08 352.0,232.78 352.5,233.20 353.0,231.60 353.5,231.03 354.0,230.74 354.1,231.39 354.5,231.87 355.0,231.84 355.5,232.11 356.0,232.69 356.5,233.52 357.0,233.09 357.5,234.00 358.0,234.06 358.5,233.66 359.0,233.88 359.5,233.92 360.0,234.18 360.5,233.30 361.0,234.00 361.5,233.42 362.0,233.17 362.5,233.26 363.0,232.84 363.5,232.13 364.0,231.34 364.5,230.96 365.0,231.48 365.5,231.92 366.0,232.09 366.5,232.87 367.0,232.78 367.5,233.24 368.0,233.57 368.5,233.25 369.0,233.36 369.5,233.78 370.0,233.68 370.5,233.47 371.0,233.97 371.5,233.77 372.0,234.21 372.5,233.89 373.0,233.80 373.5,233.95 374.0,233.86 374.5,233.70 375.0,233.79 375.5,234.18 376.0,234.15 376.5,234.36 377.0,233.39 377.5,233.82 378.0,233.81 378.5,234.01 379.0,233.80 379.5,233.79 380.0,234.22 380.5,234.02 381.0,233.57 381.5,234.40 382.0,234.29 382.5,233.77 383.0,234.24 383.5,233.72 384.0,234.34 384.5,233.89 385.0,233.70 385.5,233.84 386.0,233.71 386.5,234.03 387.0,234.02 387.5,233.98 388.0,233.78 388.5,232.76 389.0,233.99 389.5,233.34 390.0,234.04 390.5,234.34 391.0,234.05 391.5,233.83 392.0,233.90 392.5,233.91 393.0,233.77 393.5,233.76 394.0,233.64 394.5,234.34 395.0,233.94 395.5,234.25 396.0,233.85 396.5,233.95 397.0,233.86 397.5,234.06 398.0,234.17 398.5,233.96 399.0,233.65 399.5,233.59 400.0,234.36 400.5,233.68 401.0,233.61 401.5,234.11 402.0,233.86 402.5,233.52 403.0,233.01 403.5,233.68 404.0,232.82 404.5,232.73 404.7,232.48 405.0,232.10 405.5,232.29 406.0,233.09 406.5,233.31 407.0,233.30 407.5,233.14 408.0,233.17 408.5,233.62 409.0,233.30 409.5,234.12 410.0,234.23 410.5,234.81 411.0,234.18 411.5,233.71 412.0,233.63 412.5,232.79 413.0,233.74 413.5,233.88 414.0,234.26 414.5,234.15 415.0,234.15 415.5,234.03 416.0,234.18 416.5,234.44 417.0,233.61 417.5,233.82 418.0,233.51 418.5,234.51 419.0,234.40 419.5,234.22 420.0,233.58 420.5,234.03 421.0,233.90 421.5,234.01 422.0,233.92 422.5,234.15 423.0,233.85 423.5,234.26 424.0,234.06 424.5,233.89 425.0,233.95 425.5,233.84 426.0,234.25 426.5,233.90 427.0,234.08 427.5,233.86 428.0,233.50 428.5,234.29 429.0,233.64 429.5,234.21 430.0,234.13 430.5,233.44 431.0,233.68 431.5,233.82 432.0,233.72"/>
<polyline class="c" stroke="#f0f" points="41.0,298.81 41.5,299.44 42.0,299.12 42.5,299.32 43.0,299.05 43.5,299.30 44.0,298.95 44.5,299.19 45.0,299.39 45.5,299.21 46.0,299.04 46.5,298.84 47.0,299.25 47.5,299.31 48.0,299.11 48.5,298.94 49.0,299.37 49.5,300.01 50.0,299.10 50.5,299.31 51.0,299.32 51.5,298.35 52.0,299.24 52.5,298.96 53.0,299.65 53.5,299.11 54.0,298.94 54.5,299.12 55.0,299.25 55.5,299.01 56.0,299.18 56.5,298.75 57.0,299.12 57.5,299.45 58.0,299.84 58.5,299.43 59.0,299.28 59.5,299.59 60.0,299.53 60.5,299.74 61.0,299.55 61.5,299.16 62.0,299.28 62.5,299.25 63.0,299.29 63.5,299.26 64.0,298.94 64.5,298.50 65.0,298.97 65.5,298.53 66.0,299.22 66.5,299.20 67.0,298.64 67.5,299.42 68.0,299.48 68.5,299.23 69.0,299.74 69.5,299.81 70.0,298.80 70.5,299.54 71.0,299.34 71.5,299.33 72.0,299.50 72.5,298.96 73.0,299.00 73.5,298.92 74.0,298.94 74.5,299.16 75.0,298.71 75.5,298.85 76.0,299.38 76.5,299.17 77.0,299.32 77.5,298.57 78.0,298.93 78.5,299.01 79.0,299.20 79.5,299.00 80.0,299.50 80.5,299.17 81.0,299.20 81.5,299.20 82.0,299.43 82.5,299.04 83.0,299.56 83.5,299.34 84.0,299.24 84.5,299.21 85.0,299.36 85.5,299.53 86.0,299.50 86.5,299.32 87.0,299.48 87.5,299.23 88.0,299.60 88.5,299.18 89.0,298.51 89.5,299.63 90.0,299.23 90.5,298.80 91.0,299.13 91.5,298.90 92.0,299.88 92.5,299.35 93.0,298.67 93.5,299.37 94.0,299.06 94.5,299.82 95.0,298.84 95.5,298.45 96.0,299.21 96.5,299.08 97.0,299.05 97.5,298.48 98.0,299.33 98.5,299.74 99.0,298.56 99.5,299.58 100.0,299.00 100.5,299.96 101.0,299.33 101.5,299.13 102.0,299.55 102.5,299.36 103.0,298.99 103.5,299.42 104.0,299.02 104.5,298.60 105.0,299.86 105.5,299.07 106.0,298.99 106.5,299.30 107.0,298.67 107.5,298.74 108.0,299.02 108.5,299.02 109.0,299.21 109.5,299.56 110.0,299.03 110.5,299.35 111.0,299.38 111.5,298.83 112.0,299.26 112.5,298.87 113.0,299.54 113.5,299.34 114.0,299.19 114.5,298.74 115.0,299.22 115.5,298.93 116.0,299.42 116.5,299.14 117.0,298.92 117.5,299.49 118.0,299.42 118.5,298.99 119.0,299.57 119.5,299.08 120.0,299.08 120.5,299.22 121.0,298.93 121.5,299.04 122.0,299.13 122.5,299.69 123.0,299.68 123.5,299.10 124.0,299.71 124.5,299.17 125.0,299.31 125.5,299.47 126.0,299.28 126.5,299.98 127.0,299.26 127.5,298.78 128.0,299.61 128.5,299.04 129.0,299.08 129.5,298.19 130.0,299.51 130.5,299.45 131.0,299.44 131.5,299.50 132.0,299.73 132.5,299.16 133.0,299.48 133.5,298.93 134.0,299.06 134.5,299.52 135.0,299.30 135.5,298.73 136.0,299.29 136.5,299.11 137.0,298.90 137.5,299.31 138.0,299.04 138.5,298.65 139.0,298.80 139.5,299.75 140.0,298.67 140.5,299.24 141.0,299.37 141.5,299.38 142.0,298.76 142.5,299.06 143.0,299.21 143.5,299.42 144.0,298.95 144.5,298.77 145.0,299.49 145.5,299.52 146.0,299.28 146.5,298.95 147.0,299.29 147.5,299.19 148.0,299.43 148.5,298.74 149.0,299.19 149.5,299.09 150.0,298.78 150.5,299.21 151.0,299.15 151.5,299.00 152.0,299.27 152.5,298.67 153.0,299.12 153.5,299.27 154.0,299.22 154.5,299.48 155.0,298.73 155.5,298.62 156.0,299.20 156.5,299.26 157.0,299.81 157.5,299.31 158.0,298.81 158.5,299.36 159.0,298.81 159.5,298.59 160.0,299.94 160.5,299.17 161.0,299.29 161.5,299.23 162.0,299.63 162.5,299.11 163.0,299.40 163.5,298.63 164.0,298.47 164.5,299.36 165.0,299.30 165.5,298.88 166.0,298.60 166.5,298.19 167.0,297.09 167.5,296.42 168.0,294.85 168.1,294.75 168.5,295.39 169.0,297.14 169.5,297.99 170.0,298.58 170.5,298.18 171.0,298.84 171.5,299.46 172.0,298.60 172.5,298.74 173.0,299.08 173.5,299.10 174.0,298.97 174.5,298.21 175.0,298.88 175.5,298.29 176.0,298.37 176.5,298.77 177.0,298.43 177.5,298.72 178.0,299.39 178.5,298.49 179.0,298.33 179.5,297.60 180.0,297.44 180.5,296.98 181.0,296.70 181.5,295.89 182.0,295.08 182.5,293.65 183.0,290.42 183.5,284.35 184.0,273.46 184.5,258.43 185.0,248.74 185.5,258.61 186.0,274.23 186.5,284.67 187.0,290.92 187.5,293.18 188.0,295.97 188.5,296.55 189.0,296.70 189.5,296.82 190.0,297.64 190.5,297.12 191.0,297.65 191.5,298.28 192.0,298.15 192.5,298.03 193.0,298.55 193.5,297.92 194.0,298.36 194.5,298.09 195.0,297.95 195.5,298.34 196.0,297.79 196.5,298.65 197.0,297.70 197.5,298.37 198.0,297.12 198.5,297.36 199.0,296.31 199.5,295.61 200.0,295.09 200.5,293.53 201.0,289.55 201.5,283.70 202.0,271.20 202.5,255.99 202.9,249.65 203.0,250.17 203.5,261.51 204.0,277.45 204.5,286.74 205.0,291.50 205.5,293.86 206.0,295.03 206.5,296.00 207.0,297.21 207.5,297.33 208.0,297.37 208.5,297.80 209.0,298.67 209.5,298.18 210.0,298.21 210.5,298.94 211.0,298.73 211.5,298.65 212.0,298.49 212.5,298.23 213.0,298.39 213.5,298.66 214.0,298.77 214.5,298.99 215.0,299.08 215.5,298.99 216.0,299.01 216.5,298.62 217.0,298.25 217.5,298.81 218.0,298.67 218.5,298.79 219.0,298.92 219.5,298.61 220.0,298.66 220.5,299.00 221.0,299.08 221.5,298.83 222.0,299.22 222.5,298.99 223.0,298.73 223.5,299.08 224.0,299.70 224.5,298.86 225.0,299.47 225.5,299.54 226.0,299.58 226.5,298.82 227.0,299.76 227.5,299.13 228.0,299.01 228.5,299.02 229.0,299.30 229.5,299.12 230.0,299.05 230.5,299.53 231.0,298.87 231.5,298.76 232.0,299.37 232.5,299.34 233.0,299.47 233.5,298.76 234.0,299.47 234.5,299.27 235.0,299.69 235.5,298.69 236.0,299.18 236.5,299.01 237.0,298.57 237.5,298.86 238.0,299.46 238.5,298.93 239.0,298.84 239.5,299.35 240.0,299.38 240.5,299.36 241.0,298.76 241.5,298.96 242.0,299.27 242.5,298.63 243.0,298.46 243.5,298.73 244.0,298.61 244.5,297.30 245.0,296.61 245.5,297.19 246.0,297.75 246.5,298.40 247.0,298.88 247.5,298.77 248.0,298.66 248.5,298.99 249.0,298.64 249.5,298.95 250.0,298.76 250.5,299.86 251.0,299.23 251.5,298.67 252.0,298.60 252.5,298.76 253.0,298.32 253.5,298.57 254.0,298.50 254.5,298.94 255.0,298.37 255.5,298.05 256.0,297.55 256.5,297.00 257.0,296.16 257.5,293.83 258.0,290.76 258.5,287.31 258.6,287.76 259.0,289.02 259.5,292.61 260.0,294.76 260.5,296.58 261.0,298.05 261.5,298.67 262.0,298.52 262.5,298.87 263.0,298.59 263.5,298.68 264.0,298.65 264.5,299.23 265.0,299.06 265.5,298.90 266.0,298.89 266.5,299.20 267.0,299.14 267.5,298.77 268.0,299.62 268.5,299.15 269.0,299.08 269.5,299.57 270.0,299.42 270.5,299.06 271.0,299.27 271.5,298.74 272.0,298.88 272.5,298.35 273.0,299.50 273.5,298.47 274.0,299.32 274.5,298.82 275.0,298.77 275.5,299.03 276.0,299.17 276.5,299.28 277.0,299.66 277.5,299.18 278.0,299.34 278.5,298.84 279.0,299.26 279.5,299.05 280.0,298.82 280.5,298.90 281.0,298.86 281.5,298.86 282.0,298.81 282.5,298.30 283.0,297.86 283.5,297.75 284.0,296.03 284.5,295.34 285.0,295.52 285.5,294.65 286.0,296.36 286.5,297.73 287.0,297.56 287.5,299.33 288.0,297.82 288.5,299.27 289.0,299.39 289.5,299.24 290.0,298.90 290.5,299.12 291.0,298.73 291.5,299.31 292.0,298.69 292.5,298.98 293.0,299.41 293.5,298.72 294.0,298.97 294.5,299.15 295.0,298.66 295.5,299.49 296.0,299.22 296.5,298.61 297.0,299.09 297.5,298.85 298.0,298.89 298.5,299.13 299.0,298.87 299.5,299.42 300.0,298.87 300.5,299.43 301.0,299.08 301.5,299.38 302.0,298.91 302.5,298.92 303.0,298.70 303.5,299.26 304.0,299.37 304.5,299.75 305.0,299.46 305.5,299.10 306.0,298.93 306.5,299.10 307.0,298.93 307.5,299.38 308.0,299.15 308.5,298.48 309.0,298.42 309.5,298.91 310.0,298.25 310.5,297.53 311.0,297.11 311.5,295.30 312.0,293.98 312.4,293.44 312.5,292.97 313.0,294.86 313.5,295.58 314.0,296.92 314.5,297.60 315.0,298.52 315.5,298.50 316.0,298.67 316.5,298.21 317.0,298.80 317.5,298.39 318.0,299.01 318.5,299.05 319.0,298.94 319.5,299.63 320.0,299.14 320.5,299.16 321.0,299.01 321.5,298.90 322.0,299.27 322.5,299.30 323.0,298.49 323.5,299.25 324.0,299.03 324.5,299.14 325.0,298.92 325.5,298.28 326.0,298.20 326.5,299.04 327.0,298.29 327.5,297.34 328.0,297.23 328.5,295.83 329.0,293.61 329.5,291.45 330.0,290.65 330.5,292.30 331.0,294.20 331.5,295.87 332.0,297.21 332.5,298.00 333.0,297.51 333.5,298.34 334.0,298.31 334.5,298.28 335.0,298.58 335.5,298.78 336.0,298.77 336.5,298.41 337.0,298.76 337.5,299.60 338.0,298.60 338.5,298.40 339.0,299.06 339.5,299.17 340.0,299.13 340.5,298.60 341.0,299.30 341.5,298.71 342.0,298.59 342.5,298.75 343.0,298.90 343.5,299.16 344.0,299.11 344.5,298.88 345.0,299.16 345.5,298.85 346.0,299.07 346.5,298.26 347.0,298.14 347.5,298.82 348.0,297.97 348.5,298.13 349.0,297.90 349.5,297.31 350.0,296.67 350.5,296.44 351.0,294.25 351.5,294.82 352.0,295.28 352.5,294.75 353.0,294.70 353.5,294.44 354.0,293.86 354.5,291.83 355.0,291.83 355.5,292.41 356.0,294.00 356.5,295.24 357.0,296.51 357.5,296.95 358.0,297.64 358.5,297.74 359.0,297.95 359.5,298.26 360.0,298.35 360.5,298.06 361.0,298.98 361.5,298.41 362.0,297.96 362.5,298.71 363.0,297.96 363.5,298.14 364.0,297.55 364.5,296.88 365.0,295.59 365.5,293.52 366.0,291.79 366.4,291.77 366.5,290.41 367.0,292.54 367.5,294.69 368.0,295.83 368.5,296.79 369.0,298.58 369.5,298.11 370.0,299.14 370.5,298.77 371.0,298.72 371.5,298.93 372.0,299.04 372.5,299.27 373.0,299.06 373.5,298.99 374.0,299.02 374.5,299.43 375.0,299.27 375.5,298.68 376.0,298.82 376.5,299.15 377.0,298.84 377.5,298.93 378.0,298.74 378.5,298.98 379.0,299.21 379.5,299.40 380.0,299.08 380.5,299.76 381.0,299.05 381.5,300.13 382.0,299.40 382.5,299.23 383.0,298.90 383.5,298.13 384.0,299.00 384.5,299.11 385.0,299.67 385.5,298.56 386.0,299.63 386.5,298.89 387.0,299.17 387.5,298.04 388.0,298.83 388.5,298.53 389.0,298.65 389.5,298.12 390.0,297.27 390.5,297.49 391.0,297.12 391.1,297.08 391.5,297.36 392.0,297.82 392.5,297.92 393.0,297.85 393.5,298.10 394.0,299.17 394.5,299.07 395.0,298.93 395.5,298.79 396.0,298.97 396.5,298.99 397.0,298.88 397.5,298.77 398.0,299.71 398.5,299.07 399.0,298.79 399.5,298.54 400.0,298.71 400.5,299.16 401.0,299.14 401.5,298.76 402.0,298.77 402.5,298.54 403.0,298.08 403.5,298.56 404.0,297.78 404.5,297.81 405.0,295.95 405.5,295.50 405.8,295.71 406.0,295.39 406.5,295.59 407.0,296.54 407.5,297.59 408.0,298.18 408.5,298.38 409.0,298.96 409.5,299.09 410.0,298.96 410.5,298.92 411.0,298.88 411.5,299.18 412.0,299.32 412.5,299.06 413.0,299.21 413.5,298.97 414.0,298.62 414.5,298.77 415.0,299.36 415.5,299.26 416.0,299.65 416.5,299.15 417.0,299.42 417.5,299.57 418.0,299.47 418.5,298.94 419.0,299.09 419.5,299.19 420.0,298.83 420.5,299.31 421.0,299.50 421.5,299.00 422.0,299.81 422.5,299.07 423.0,299.10 423.5,299.09 424.0,298.93 424.5,299.31 425.0,299.18 425.5,299.72 426.0,299.37 426.5,299.35 427.0,299.10 427.5,298.71 428.0,299.15 428.5,298.90 429.0,299.49 429.5,299.17 430.0,299.73 430.5,299.42 431.0,299.45 431.5,299.26 432.0,299.25"/>
<polyline class="c" stroke="#f00" points="465.0,107.87 465.5,107.91 466.0,107.47 466.5,107.73 467.0,108.23 467.5,107.51 468.0,107.43 468.5,107.28 469.0,107.05 469.5,107.67 470.0,107.34 470.5,107.35 471.0,107.68 471.5,107.79 472.0,106.89 472.5,107.31 473.0,107.14 473.5,107.02 474.0,106.97 474.5,106.78 475.0,107.10 475.5,106.78 476.0,106.63 476.5,106.76 477.0,106.58 477.5,106.37 478.0,106.24 478.5,106.48 479.0,106.05 479.5,105.78 480.0,105.45 480.5,105.44 481.0,105.11 481.5,105.24 482.0,105.10 482.5,104.34 483.0,104.66 483.5,104.61 484.0,104.26 484.5,103.74 485.0,104.03 485.5,103.26 486.0,102.83 486.5,102.54 487.0,102.45 487.5,102.32 488.0,101.95 488.5,101.26 489.0,100.42 489.5,100.03 490.0,99.39 490.5,98.94 491.0,97.86 491.5,97.58 492.0,96.91 492.5,95.82 493.0,95.01 493.5,93.62 494.0,92.35 494.5,91.33 495.0,90.46 495.5,89.01 496.0,87.09 496.5,85.80 497.0,83.48 497.5,81.65 498.0,78.58 498.5,74.90 499.0,71.10 499.5,66.17 500.0,61.69 500.5,57.95 501.0,56.33 501.2,55.99 501.5,56.25 502.0,58.21 502.5,62.28 503.0,66.26 503.5,70.72 504.0,75.32 504.5,78.82 505.0,81.35 505.5,83.13 506.0,85.35 506.5,87.35 507.0,88.74 507.5,90.54 508.0,91.09 508.5,92.76 509.0,93.45 509.5,94.80 510.0,95.17 510.5,96.04 511.0,96.16 511.5,96.50 512.0,97.16 512.5,97.97 513.0,98.63 513.5,99.99 514.0,100.80 514.5,101.24 515.0,101.53 515.5,102.27 516.0,102.56 516.5,103.46 517.0,103.50 517.5,103.83 518.0,103.87 518.5,103.72 519.0,104.25 519.5,104.38 520.0,104.95 520.5,105.06 521.0,105.01 521.5,105.27 522.0,105.91 522.5,105.42 523.0,105.57 523.5,105.87 524.0,105.87 524.5,106.05 525.0,106.39 525.5,106.79 526.0,106.01 526.5,106.54 527.0,106.64 527.5,106.69 528.0,106.74 528.5,106.77 529.0,107.17 529.5,106.87 530.0,107.02 530.5,107.11 531.0,107.19 531.5,107.18 532.0,107.52 532.5,107.32 533.0,107.41 533.5,107.40 534.0,107.21 534.5,107.29 535.0,107.27 535.5,107.62 536.0,107.43 536.5,107.38 537.0,107.74 537.5,107.84"/>
<polyline class="c" stroke="#00f" points="465.0,182.01 465.5,182.83 466.0,182.37 466.5,182.28 467.0,182.53 467.5,182.22 468.0,182.00 468.5,182.63 469.0,181.75 469.5,181.93 470.0,182.09 470.5,181.53 471.0,181.69 471.5,181.72 472.0,182.12 472.5,181.20 473.0,181.30 473.5,181.35 474.0,181.08 474.5,180.62 475.0,180.87 475.5,180.63 476.0,180.53 476.5,180.51 477.0,180.27 477.5,179.88 478.0,179.60 478.5,178.97 479.0,178.90 479.5,178.64 480.0,178.11 480.5,177.81 481.0,177.11 481.5,177.17 482.0,176.73 482.5,175.43 483.0,174.87 483.5,173.85 484.0,173.24 484.5,171.90 485.0,170.50 485.5,168.90 486.0,167.21 486.5,164.83 487.0,162.80 487.5,159.60 488.0,156.63 488.5,152.86 489.0,149.12 489.5,144.71 490.0,140.95 490.5,136.91 491.0,134.57 491.5,132.83 491.8,132.67 492.0,132.76 492.5,134.24 493.0,136.01 493.5,140.02 494.0,143.51 494.5,148.32 495.0,151.56 495.5,155.54 496.0,158.73 496.5,162.50 497.0,164.29 497.5,166.80 498.0,168.48 498.5,169.74 499.0,171.45 499.5,172.86 500.0,173.66 500.5,174.83 501.0,175.28 501.5,176.05 502.0,176.56 502.5,177.28 503.0,178.15 503.5,178.20 504.0,178.55 504.5,178.69 505.0,178.98 505.5,179.82 506.0,179.43 506.5,179.72 507.0,180.14 507.5,180.26 508.0,181.03 508.5,180.12 509.0,180.95 509.5,181.18 510.0,180.86 510.5,181.10 511.0,181.48 511.5,181.88 512.0,181.34 512.5,181.27 513.0,181.99 513.5,182.21 514.0,181.82 514.5,181.42 515.0,182.40 515.5,182.05 516.0,182.44 516.5,182.20 517.0,182.17 517.5,182.20 518.0,182.73 518.5,182.76 519.0,181.91 519.5,182.25 520.0,182.96 520.5,182.46 521.0,182.25 521.5,182.62 522.0,182.62 522.5,182.65 523.0,182.59 523.5,182.65 524.0,182.64 524.5,182.86 525.0,182.60 525.5,182.75 526.0,182.81 526.5,183.19 527.0,182.98 527.5,182.88 528.0,183.05 528.5,183.04 529.0,183.23 529.5,183.10 530.0,183.43 530.5,183.33 531.0,183.00 531.5,182.92 532.0,183.26 532.5,183.18 533.0,183.04 533.5,182.70 534.0,182.63 534.5,183.18 535.0,183.30 535.5,183.32 536.0,182.80 536.5,183.39 537.0,183.01 537.5,183.25"/>
<polyline class="c" stroke="#000" points="465.0,232.68 465.5,232.33 466.0,232.33 466.5,231.91 467.0,232.14 467.5,231.87 468.0,232.37 468.5,232.21 469.0,232.36 469.5,232.15 470.0,231.84 470.5,232.01 471.0,231.75 471.5,231.92 472.0,231.76 472.5,231.34 473.0,231.50 473.5,231.41 474.0,231.22 474.5,231.41 475.0,231.50 475.5,230.86 476.0,230.74 476.5,230.13 477.0,230.52 477.5,230.30 478.0,229.71 478.5,230.16 479.0,230.07 479.5,229.56 480.0,229.45 480.5,229.11 481.0,229.33 481.5,228.53 482.0,228.60 482.5,228.91 483.0,228.18 483.5,228.01 484.0,227.56 484.5,227.00 485.0,226.96 485.5,226.73 486.0,226.01 486.5,225.98 487.0,225.81 487.5,225.34 488.0,224.24 488.5,223.94 489.0,223.30 489.5,223.47 490.0,222.82 490.5,222.30 491.0,221.34 491.5,220.68 492.0,220.39 492.5,219.78 493.0,218.93 493.5,218.57 494.0,218.09 494.5,217.41 495.0,216.55 495.5,215.79 496.0,215.83 496.5,215.57 497.0,215.19 497.5,214.97 498.0,214.83 498.2,215.17 498.5,215.01 499.0,215.17 499.5,215.12 500.0,215.51 500.5,216.10 501.0,216.27 501.5,216.72 502.0,217.52 502.5,218.50 503.0,218.86 503.5,219.80 504.0,220.03 504.5,220.60 505.0,220.94 505.5,221.73 506.0,222.81 506.5,223.08 507.0,223.71 507.5,224.21 508.0,224.52 508.5,224.93 509.0,225.45 509.5,226.01 510.0,226.36 510.5,226.75 511.0,227.03 511.5,227.14 512.0,227.60 512.5,227.74 513.0,228.53 513.5,228.03 514.0,228.77 514.5,229.68 515.0,229.24 515.5,229.27 516.0,229.77 516.5,230.30 517.0,230.14 517.5,230.52 518.0,230.57 518.5,230.62 519.0,231.66 519.5,231.05 520.0,231.04 520.5,231.20 521.0,231.55 521.5,231.68 522.0,231.90 522.5,231.85 523.0,231.57 523.5,232.17 524.0,232.06 524.5,232.17 525.0,231.96 525.5,232.28 526.0,232.33 526.5,232.58 527.0,232.31 527.5,232.76 528.0,232.85 528.5,232.61 529.0,232.80 529.5,232.81 530.0,233.32 530.5,232.52 531.0,233.12 531.5,232.85 532.0,233.21 532.5,233.58 533.0,233.26 533.5,233.51 534.0,233.31 534.5,234.05 535.0,233.84 535.5,233.94 536.0,233.36 536.5,233.46 537.0,234.05 537.5,233.77"/>
<polyline class="c" stroke="#f0f" points="469.7,296.93 470.2,296.94 470.7,296.51 471.2,296.80 471.7,296.52 472.2,296.49 472.7,296.12 473.2,296.22 473.7,295.82 474.2,296.00 474.7,295.87 475.2,295.66 475.7,295.40 476.2,295.24 476.7,294.37 477.2,294.87 477.7,294.43 478.2,294.27 478.7,293.95 479.2,293.47 479.7,293.37 480.2,293.32 480.7,293.17 481.2,292.44 481.7,292.05 482.2,292.16 482.7,291.31 483.2,291.50 483.7,290.66 484.2,290.02 484.7,289.91 485.2,289.54 485.7,288.37 486.2,288.38 486.7,287.39 487.2,287.09 487.7,286.01 488.2,285.02 488.7,284.64 489.2,283.87 489.7,283.19 490.2,282.14 490.7,280.89 491.2,279.59 491.7,278.34 492.2,277.10 492.7,275.61 493.2,274.24 493.7,272.21 494.2,271.07 494.7,269.25 495.2,267.90 495.7,265.59 496.2,263.35 496.7,261.56 497.2,259.22 497.7,257.44 498.2,255.43 498.7,254.51 499.2,253.02 499.7,251.64 500.2,251.18 500.7,251.08 500.8,250.97 501.2,251.04 501.7,251.25 502.2,252.12 502.7,253.42 503.2,255.01 503.7,256.32 504.2,258.09 504.7,260.48 505.2,262.06 505.7,264.46 506.2,266.27 506.7,268.31 507.2,270.32 507.7,271.85 508.2,273.51 508.7,274.71 509.2,276.19 509.7,277.80 510.2,279.22 510.7,280.36 511.2,281.63 511.7,282.24 512.2,283.17 512.7,284.22 513.2,284.85 513.7,285.61 514.2,286.14 514.7,287.24 515.2,287.47 515.7,288.39 516.2,288.57 516.7,289.60 517.2,289.68 517.7,290.53 518.2,290.48 518.7,291.13 519.2,291.85 519.7,291.82 520.2,292.35 520.7,292.57 521.2,292.52 521.7,293.34 522.2,293.64 522.7,293.60 523.2,294.18 523.7,294.15 524.2,294.33 524.7,294.75 525.2,294.81 525.7,295.60 526.2,295.02 526.7,295.65 527.2,295.87 527.7,295.43 528.2,295.63 528.7,296.24 529.2,296.16 529.7,296.47 530.2,296.75 530.7,296.56 531.2,296.54 531.7,296.32 532.2,297.01 532.7,296.88 533.2,297.23 533.7,297.31 534.2,297.07 534.7,297.78 535.2,297.73 535.7,297.77 536.2,297.43 536.7,297.66 537.2,297.71"/>
<path fill="none" stroke="#000" stroke-width="2" stroke-dasharray="7.6 7.55" d="M501.2 64.2L491.4 131.5"/>
<path fill="none" stroke="#000" stroke-width="2" stroke-dasharray="7.6 7.55" stroke-dashoffset="11.84" d="M491.4 131.5L505.1 278.3"/>
<path d="M41 316.2V7.3H432V316.2M465.1 316.2V7.3H537.6V316.2" fill="none" stroke="#000" stroke-width="1.8" stroke-linejoin="miter"/>
<path d="M40.1 316.2H432.9M464.2 316.2H538.5" fill="none" stroke="#000" stroke-width="1.5"/>
<path d="M68.93 316V312.2 M96.86 316V309.0 M124.79 316V312.2 M152.72 316V309.0 M180.65 316V312.2 M208.58 316V309.0 M236.51 316V312.2 M264.44 316V309.0 M292.37 316V312.2 M320.30 316V309.0 M348.23 316V312.2 M376.16 316V309.0 M404.09 316V312.2 M483.12 316V312.2 M501.25 316V309.0 M519.38 316V312.2" stroke="#000" stroke-width="1.6" fill="none"/>
<text class="tl" x="41.0" y="335.1">10</text><text class="tl" x="96.9" y="335.1">20</text><text class="tl" x="152.7" y="335.1">30</text><text class="tl" x="208.6" y="335.1">40</text><text class="tl" x="264.4" y="335.1">50</text><text class="tl" x="320.3" y="335.1">60</text><text class="tl" x="376.2" y="335.1">70</text><text class="tl" x="432.0" y="335.1">80</text><text class="tl" x="465.0" y="335.1">38</text><text class="tl" x="501.2" y="335.1">39</text><text class="tl" x="537.5" y="335.1">40</text>
<text class="lab" x="52.4" y="95.2">CB-700</text>
<text class="lab" x="54.8" y="175.2">CB-600</text>
<text class="lab" x="54.5" y="230.7">CB-500</text>
<text class="lab" x="53.5" y="294.1">CuO-600</text>
<text class="m" transform="translate(142.4 48.0) scale(1.1 1)" text-anchor="middle" style="font-size:15.0px">Δ</text><text class="m" transform="translate(152.3 102.8) scale(1.1 1)" text-anchor="middle" style="font-size:15.0px">Δ</text><text class="m" transform="translate(159.6 101.6) scale(1.1 1)" text-anchor="middle" style="font-size:15.0px">Δ</text><text class="m" transform="translate(174.5 96.0) scale(1.1 1)" text-anchor="middle" style="font-size:15.0px">Δ</text><text class="m" transform="translate(195.8 101.7) scale(1.1 1)" text-anchor="middle" style="font-size:15.0px">Δ</text><text class="m" transform="translate(239.7 103.6) scale(1.1 1)" text-anchor="middle" style="font-size:15.0px">Δ</text><text class="m" transform="translate(248.8 93.0) scale(1.1 1)" text-anchor="middle" style="font-size:15.0px">Δ</text><text class="m" transform="translate(283.3 101.5) scale(1.1 1)" text-anchor="middle" style="font-size:15.0px">Δ</text><text class="m" transform="translate(298.5 101.7) scale(1.1 1)" text-anchor="middle" style="font-size:15.0px">Δ</text><text class="m" transform="translate(144.4 164.3) scale(1.1 1)" text-anchor="middle" style="font-size:15.0px">Δ</text><text class="mo" transform="translate(141.0 148.3) scale(1.12 1)" text-anchor="middle" style="font-size:16.0px">o</text><text class="mo" transform="translate(159.4 172.6) scale(1.12 1)" text-anchor="middle" style="font-size:16.0px">o</text><text class="mo" transform="translate(168.8 165.5) scale(1.12 1)" text-anchor="middle" style="font-size:16.0px">o</text><text class="mo" transform="translate(241.7 168.2) scale(1.12 1)" text-anchor="middle" style="font-size:16.0px">o</text><text class="mo" transform="translate(248.4 173.6) scale(1.12 1)" text-anchor="middle" style="font-size:16.0px">o</text><text class="mo" transform="translate(284.0 173.3) scale(1.12 1)" text-anchor="middle" style="font-size:16.0px">o</text><text class="mo" transform="translate(295.0 169.6) scale(1.12 1)" text-anchor="middle" style="font-size:16.0px">o</text><text class="mo" transform="translate(305.5 178.0) scale(1.12 1)" text-anchor="middle" style="font-size:16.0px">o</text><text class="mo" transform="translate(141.1 221.7) scale(1.12 1)" text-anchor="middle" style="font-size:16.0px">o</text><text class="m" transform="translate(169.4 287.6) rotate(180) scale(1.1 1)" y="4.95" text-anchor="middle" style="font-size:15.0px">Δ</text><text class="m" transform="translate(186.4 242.4) rotate(180) scale(1.1 1)" y="4.95" text-anchor="middle" style="font-size:15.0px">Δ</text><text class="m" transform="translate(204.8 243.3) rotate(180) scale(1.1 1)" y="4.95" text-anchor="middle" style="font-size:15.0px">Δ</text><text class="m" transform="translate(260.0 280.6) rotate(180) scale(1.1 1)" y="4.95" text-anchor="middle" style="font-size:15.0px">Δ</text><text class="m" transform="translate(287.0 288.0) rotate(180) scale(1.1 1)" y="4.95" text-anchor="middle" style="font-size:15.0px">Δ</text><text class="m" transform="translate(314.0 286.4) rotate(180) scale(1.1 1)" y="4.95" text-anchor="middle" style="font-size:15.0px">Δ</text><text class="m" transform="translate(332.2 284.5) rotate(180) scale(1.1 1)" y="4.95" text-anchor="middle" style="font-size:15.0px">Δ</text><text class="m" transform="translate(358.7 284.5) rotate(180) scale(1.1 1)" y="4.95" text-anchor="middle" style="font-size:15.0px">Δ</text><text class="m" transform="translate(368.4 283.8) rotate(180) scale(1.1 1)" y="4.95" text-anchor="middle" style="font-size:15.0px">Δ</text>
<text class="m" transform="translate(357.1 23.9) rotate(180) scale(1.1 1)" y="5.28" text-anchor="middle" style="font-size:16px">Δ</text>
<text class="lg" x="366.9" y="30.1">CuO</text>
<text class="mo" transform="translate(355.6 50.7) scale(1.12 1)" text-anchor="middle" style="font-size:16.0px">o</text>
<text class="lg" x="365.1" y="51.1">Bi<tspan class="sb" dy="6">2</tspan><tspan dy="-6">O</tspan><tspan class="sb" dy="6">3</tspan></text>
<text class="m" transform="translate(356.6 76.8) scale(1.1 1)" text-anchor="middle" style="font-size:15px">Δ</text>
<text class="lg" x="366" y="77">CuBi<tspan class="sb" dy="5.8">2</tspan><tspan dy="-5.8">O</tspan><tspan class="sb" dy="5.8">4</tspan></text>
<text transform="translate(15.3 223.6) rotate(-90)" style="font-family:'Liberation Serif',serif;font-weight:bold;font-size:16.8px">Intensity (a.u.)</text>
<text transform="translate(216.2 363.1) scale(1.13 1)" style="font-family:'Liberation Serif',serif;font-weight:bold;font-size:15.8px">2</text>
<text transform="translate(226.5 363.1) scale(1.16 1)" style="font-family:'Liberation Serif',serif;font-weight:bold;font-style:italic;font-size:15.5px">θ</text><text y="363.1" style="font-family:'Liberation Serif',serif;font-size:15.5px"><tspan x="232.6" font-weight="bold" font-style="italic">/</tspan><tspan x="239.4" y="363.6" font-style="italic">(</tspan><tspan x="244.5" y="355.7" font-style="italic" style="font-size:7.5px">o</tspan><tspan x="250.2" y="363.3" font-style="italic">)</tspan></text>
</svg>
</body></html>
